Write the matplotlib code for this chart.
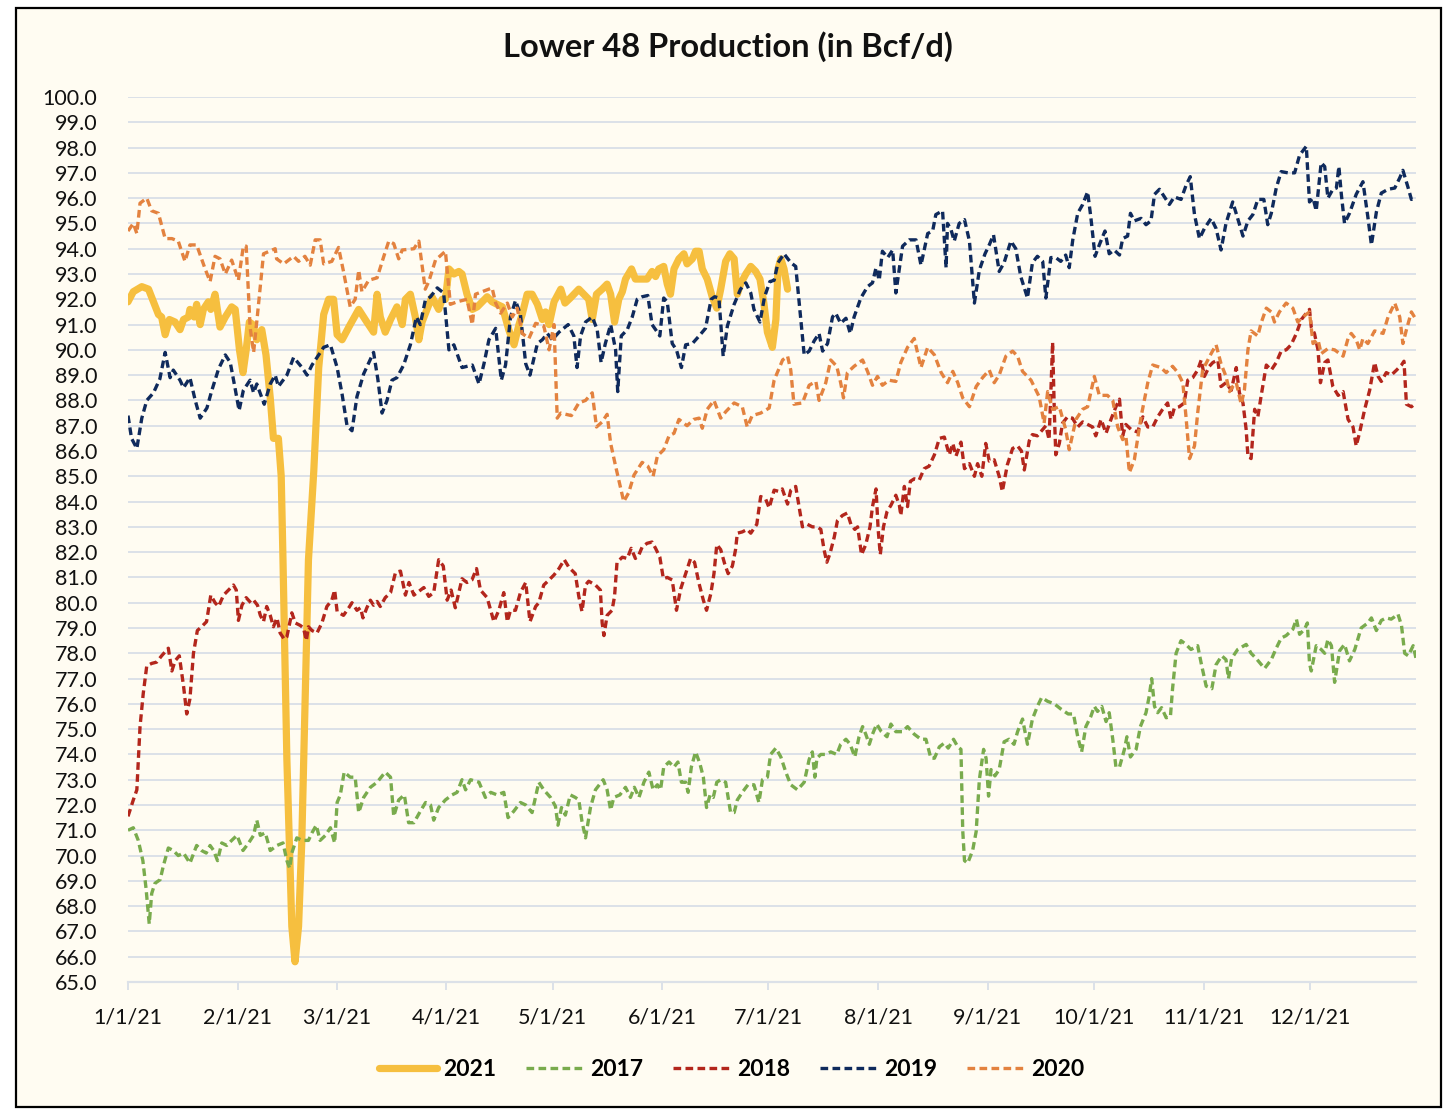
import matplotlib
matplotlib.use("Agg")
import matplotlib.pyplot as plt
from matplotlib.patches import Rectangle
from matplotlib.lines import Line2D
import numpy as np

plt.rcParams['font.family'] = ['Lato', 'DejaVu Sans']

TITLE = "Lower 48 Production (in Bcf/d)"
month_days = [0, 31, 59, 90, 120, 151, 181, 212, 243, 273, 304, 334]
month_labels = ["1/1/21", "2/1/21", "3/1/21", "4/1/21", "5/1/21", "6/1/21",
                "7/1/21", "8/1/21", "9/1/21", "10/1/21", "11/1/21", "12/1/21"]
y_ticks = list(range(65, 101))

# (day of year offset, Bcf/d)
s2021 = [(0,91.9),(1.5,92.3),(3.9,92.5),(5.8,92.4),(7.2,91.9),(8.6,91.4),(9.5,91.3),(10.5,90.6),(11.7,91.2),(13.3,91.1),(14.7,90.8),(15.7,91.2),(17.1,91.3),(17.5,91.6),(18.7,91.3),(19.4,91.8),(20.4,91.0),(21.3,91.6),(22.7,91.9),(23.4,91.6),(24.6,92.2),(26,90.9),(27.5,91.3),(29.3,91.7),(30.3,91.6),(31.5,90.0),(32.5,89.1),(33.4,90.0),(34.3,91.1),(35.3,91.0),(36.4,90.4),(37.8,90.8),(39,89.8),(40.2,88.1),(41.1,86.5),(42.5,86.5),(43.3,85.0),(43.8,81.7),(44.9,73.8),(46.3,67.2),(47.2,65.8),(48.2,67.2),(49.1,70.5),(50.1,76.4),(51,81.7),(52.5,85.2),(53.9,89.3),(55.3,91.4),(56.7,92.0),(58.1,92.0),(59.1,90.6),(60.5,90.4),(62.8,91.0),(65.2,91.6),(67.5,91.1),(69.4,90.7),(70.4,92.2),(71.3,91.3),(72.7,90.7),(74.2,91.2),(76,91.7),(77.5,91.0),(78.4,92.0),(79.8,92.2),(81.2,91.3),(82.2,90.4),(83.1,91.1),(84.5,91.6),(85.9,92.1),(87.8,91.6),(88.8,92.0),(89.7,92.0),(90.7,93.2),(92.1,93.0),(93.5,93.1),(94.4,93.0),(95.8,92.2),(97.3,91.6),(98.7,91.7),(100.1,91.9),(101.5,92.1),(102.9,91.9),(104.3,91.8),(105.8,91.7),(107.6,90.8),(109.1,90.2),(110.5,91.0),(111.4,91.4),(112.8,92.2),(114.2,92.2),(115.7,91.8),(117.1,91.2),(118,91.5),(119,91.0),(120.4,91.9),(122.3,92.4),(123.5,91.85),(125,92.05),(127.4,92.4),(128.8,92.2),(130.2,92.0),(131.2,91.2),(132.4,92.2),(134,92.4),(135.4,92.6),(136.4,92.2),(137.5,91.1),(138.7,92.0),(139.7,92.3),(140.6,92.8),(142.3,93.2),(143.4,92.8),(144.8,92.8),(146.7,92.8),(148.1,93.1),(149.1,92.9),(150,93.2),(151.4,93.3),(152.4,92.6),(153.3,92.2),(154.3,93.2),(155.7,93.6),(157.1,93.8),(158,93.4),(159.5,93.6),(160.4,93.9),(161.4,93.9),(162.3,93.2),(163.7,92.8),(165.1,92.1),(166.4,91.65),(167.5,92.4),(168.9,93.5),(170.1,93.8),(171.3,93.6),(172.2,92.2),(173.1,92.6),(174.6,93.0),(176,93.3),(177.4,93.1),(178.6,92.8),(179.7,91.85),(180.7,90.7),(182.1,90.1),(183.1,91.2),(183.7,93.2),(184.5,93.6),(185.4,93.2),(186.4,92.4)]

s2017 = [(0,71.0),(1.5,71.1),(2.9,70.6),(4.2,69.8),(5.1,68.7),(6,67.3),(6.7,68.5),(7.6,68.9),(9.1,69.05),(10,69.6),(11.4,70.3),(12.8,70.2),(14.2,70.0),(15.7,70.1),(17.5,69.7),(19.4,70.4),(20.8,70.2),(22.1,70.1),(23.2,70.4),(24.2,70.2),(25.3,69.8),(26.5,70.5),(27.9,70.4),(29.3,70.6),(30.8,70.8),(32.5,70.2),(34.1,70.5),(35.5,70.8),(36.4,71.4),(37.4,70.8),(38.8,70.9),(40.2,70.2),(42.1,70.4),(43.8,70.5),(44.9,69.8),(45.7,69.5),(46.3,70.1),(47.7,70.7),(49.2,70.6),(51,70.6),(52,70.9),(53.2,71.2),(54.3,70.6),(55.8,70.8),(57.2,71.1),(58.4,70.5),(59.1,72.1),(60,72.4),(61.1,73.3),(62.8,73.1),(64.2,73.1),(65.2,71.7),(66.6,72.3),(68.5,72.7),(70.4,72.9),(72.7,73.3),(74.2,73.1),(75.1,71.55),(76.5,72.2),(78.1,72.4),(79.3,71.3),(80.8,71.3),(82.6,71.75),(84.1,72.1),(85.5,72.0),(86.4,71.4),(87.8,71.9),(89.7,72.2),(91.6,72.4),(93,72.5),(94.4,73.0),(95.4,72.6),(96.8,73.0),(99.2,72.9),(101,72.3),(102.5,72.5),(104.3,72.4),(106.2,72.5),(107.4,71.5),(109,71.75),(110.9,72.1),(112.4,72.0),(114.2,71.7),(116.1,72.9),(117.5,72.6),(119.4,72.3),(120.8,71.95),(121.5,71.2),(122.5,71.9),(123.6,71.6),(125,72.4),(126.4,72.3),(127.4,72.2),(128.3,71.35),(129.3,70.7),(130.7,71.9),(132.1,72.6),(134.3,73.0),(135.4,72.6),(136.4,71.8),(137.3,72.3),(139,72.4),(140.6,72.7),(142,72.3),(143.1,72.7),(144.4,72.3),(145.8,72.9),(147.2,73.3),(148.4,72.6),(149.6,72.8),(150.5,72.6),(151.4,73.5),(152.9,73.7),(154.3,73.5),(155.4,73.7),(156.4,72.9),(157.6,72.9),(158.3,72.5),(159.2,73.5),(160.4,74.1),(161.6,73.65),(162.6,73.1),(163.5,71.9),(164.5,72.4),(165.4,72.3),(166.4,72.9),(167.5,73.0),(168.9,72.9),(170.3,71.7),(171.3,71.7),(172.2,72.2),(173.6,72.5),(175.2,72.8),(176.9,72.8),(178.3,72.1),(179.3,73.0),(180.7,73.1),(181.6,74.0),(183.1,74.25),(184.5,73.9),(185.9,73.3),(187.3,72.8),(189.2,72.6),(191.1,72.9),(192.5,73.8),(193.4,74.1),(194.1,73.1),(194.7,73.85),(195.8,74.0),(197.2,74.0),(198.6,74.1),(200.3,74.0),(201.4,74.4),(202.9,74.6),(204.1,74.4),(205.4,73.9),(206.6,74.7),(207.6,75.1),(208.5,74.8),(209.5,74.4),(210.4,74.8),(211.6,75.2),(212.9,74.9),(214.5,74.7),(215.6,75.2),(217,74.9),(218.9,74.9),(220.3,75.1),(222.2,74.8),(224.1,74.6),(225.5,74.6),(226.9,73.85),(227.9,73.85),(229.3,74.3),(230.7,74.45),(231.8,74.25),(233.3,74.6),(234.5,74.3),(235.4,74.2),(235.9,71.0),(236.4,69.8),(237.3,69.7),(238.7,70.2),(239.7,70.95),(240.6,73.0),(241.8,74.2),(242.5,73.85),(243.2,72.35),(243.9,73.4),(245,73.15),(246.2,73.4),(247.6,74.5),(249,74.6),(250.4,74.4),(251.4,74.9),(252.8,75.4),(254.2,74.4),(255.6,75.4),(257,75.9),(258.2,76.25),(259.9,76.1),(261.8,76.0),(263.6,75.8),(265.7,75.6),(267.2,75.6),(268.4,74.7),(269.5,74.1),(270.7,75.1),(272.1,75.5),(273.1,75.9),(274,75.7),(275.2,75.9),(276.4,75.3),(277.3,75.65),(278.3,74.6),(279.2,73.5),(280.2,73.5),(281.6,74.2),(282.3,74.7),(283.3,73.9),(284.9,74.2),(286.1,75.1),(287.7,75.65),(288.6,76.3),(289.3,77.0),(290.1,75.9),(291,75.65),(292.1,75.85),(293.4,75.45),(294.6,75.5),(295.2,76.6),(296.2,78.0),(297.6,78.5),(299,78.35),(300.4,78.15),(302.3,78.3),(303.3,77.6),(304.7,76.7),(306.3,76.6),(307.5,77.55),(309.1,77.9),(310.3,77.75),(311,77.0),(311.9,77.8),(313.6,78.15),(316,78.35),(317.4,78.0),(318.8,77.8),(321.2,77.4),(323.1,77.75),(324.5,78.2),(325.9,78.6),(327.3,78.7),(329.2,78.95),(330.2,79.35),(331.1,78.75),(332.5,78.95),(333.3,79.2),(333.9,77.6),(334.4,77.3),(335.8,78.3),(337.2,78.15),(338.2,78.0),(339.1,78.55),(340.1,78.3),(341,76.85),(342.4,78.1),(343.8,78.35),(345.2,77.7),(346.7,78.15),(348.5,79.0),(350.4,79.2),(351.4,79.4),(352.8,78.9),(354.2,79.3),(355.6,79.4),(357,79.35),(358,79.45),(358.9,79.55),(359.9,79.1),(360.8,78.0),(361.8,77.9),(363.2,78.3),(364,77.8)]

s2018 = [(0,71.55),(1.5,72.2),(2.5,72.6),(3.4,75.1),(4.3,76.4),(5.3,77.5),(6.7,77.6),(8.1,77.65),(9.5,77.9),(11.4,78.2),(12.4,77.3),(13.3,77.7),(14.5,77.9),(15.7,76.7),(16.6,75.6),(17.5,76.2),(18.5,78.0),(19.6,78.9),(20.8,79.05),(22.2,79.25),(23.4,80.3),(24.6,80.0),(25.6,79.85),(27,80.3),(28.4,80.5),(29.8,80.7),(30.6,80.5),(31.2,79.3),(32.2,79.9),(33.4,80.2),(34.7,80.0),(35.5,80.1),(36.6,79.9),(37.4,79.5),(38.3,79.25),(39.2,79.85),(40.2,79.5),(41.1,79.05),(42.1,79.4),(43,78.8),(44.2,78.55),(44.9,78.65),(45.7,79.2),(46.3,79.6),(47.3,79.2),(48.7,79.1),(49.6,79.0),(50.4,78.5),(51,79.05),(52,78.9),(53.4,78.8),(54.8,79.2),(56.2,79.85),(57.6,80.1),(58.4,80.5),(59.1,79.65),(60.9,79.5),(62.4,79.8),(63.3,80.0),(64.7,79.7),(65.7,79.8),(66.4,79.4),(67.5,79.8),(68.5,80.1),(69.4,79.9),(70.4,80.05),(71.3,79.85),(72.7,80.2),(74.2,80.4),(75.6,81.2),(77,81.25),(78.4,80.3),(79.4,80.8),(80.8,80.3),(82.2,80.45),(83.6,80.6),(85,80.25),(86.4,80.4),(87.8,81.7),(89.1,81.45),(90.2,80.1),(91.3,80.5),(92.5,79.8),(94.4,80.95),(95.8,80.8),(97.2,80.9),(98.5,81.35),(99.6,80.5),(101.5,80.2),(103.4,79.25),(104.8,79.7),(106.2,80.4),(107.2,79.25),(108.1,79.7),(109.5,79.7),(110.9,80.4),(112.4,80.8),(113.6,79.25),(115.2,79.85),(116.1,80.0),(117.5,80.7),(119,80.9),(120.4,81.1),(121.8,81.35),(123.3,81.7),(124.6,81.4),(126.4,81.15),(127.4,80.25),(128.3,79.65),(129.3,80.7),(130.2,80.85),(132.1,80.7),(133.5,80.5),(134,79.2),(134.5,78.7),(135.4,79.5),(136.8,79.7),(137.5,80.25),(138.2,81.6),(139.7,81.8),(141.1,81.75),(142.2,82.15),(143.4,81.75),(144.4,81.9),(145.3,82.2),(146.7,82.35),(148.1,82.4),(149.1,82.15),(150.3,81.8),(151.3,80.95),(152.4,81.0),(153.8,80.9),(155,79.7),(156.2,80.55),(157.6,81.15),(159,81.75),(160.1,81.6),(161.4,80.75),(162.6,80.1),(163.5,79.7),(164.7,80.35),(165.6,81.15),(166.4,82.3),(167.5,82.1),(168.6,81.55),(169.6,81.15),(170.8,81.45),(171.7,82.1),(172.2,82.75),(173.6,82.8),(175,82.9),(176,82.75),(177.7,83.1),(178.8,84.2),(180.2,84.1),(181.2,83.75),(182.6,84.45),(184,84.4),(184.9,84.5),(186.4,83.9),(187.3,84.45),(188.7,84.6),(189.7,83.75),(190.6,83.0),(192,83.1),(193.4,83.0),(194.8,83.0),(195.8,82.9),(196.7,82.1),(197.5,81.6),(198.4,81.95),(199.6,82.6),(200.5,83.25),(201.9,83.45),(203.3,83.55),(204.3,83.1),(205.4,82.9),(206.2,83.0),(207.3,81.9),(208.5,82.3),(209.7,83.0),(210.4,83.8),(211.4,84.5),(212,82.9),(212.6,81.9),(213.5,83.0),(214.5,83.6),(215.6,83.85),(217,84.25),(218,83.85),(218.4,83.45),(219.4,84.6),(220.3,83.8),(221.1,84.8),(222.2,84.9),(223.6,84.85),(225,85.3),(226.4,85.4),(227.9,85.85),(229.3,86.5),(230.7,86.55),(232.1,85.85),(233.1,86.3),(234,85.8),(235.4,86.35),(236.4,85.3),(237.8,85.5),(239.2,85.0),(240.1,85.5),(241.3,85.0),(242.4,86.3),(243.4,85.6),(244.8,85.65),(246.2,85.0),(247.1,84.4),(248.5,85.45),(250,86.1),(251.4,86.2),(252.5,86.0),(253.3,85.25),(254.7,86.4),(255.6,86.65),(257,86.6),(258.5,86.85),(259.4,87.0),(260.3,86.45),(260.8,88.3),(261.3,90.3),(261.8,87.5),(262.2,85.85),(263.2,86.3),(264.1,87.1),(265.5,87.35),(266.9,87.3),(268.4,86.95),(269.8,87.15),(271.2,87.05),(272.6,86.95),(273.5,86.6),(275,87.25),(276.4,86.7),(277.8,87.25),(279.2,87.75),(280.2,88.05),(281.1,86.6),(282,87.05),(283.5,86.85),(285.3,86.75),(286.8,87.35),(288.2,86.95),(289.6,86.95),(291,87.35),(292.4,87.65),(293.8,87.9),(294.8,87.25),(295.7,87.7),(297.1,87.75),(298.5,87.9),(299.5,88.8),(300.9,88.9),(302.3,89.2),(303.3,89.6),(304.2,88.95),(305.6,89.35),(306.6,89.5),(308,89.6),(308.9,88.55),(310.3,88.7),(311.8,88.4),(313.2,89.3),(314.1,88.3),(315.1,87.9),(316,86.85),(316.5,85.8),(317.4,85.7),(318.4,87.65),(319.3,87.35),(320.2,88.15),(321.7,89.4),(323.1,89.2),(324.5,89.5),(325.9,89.95),(327.3,90.0),(328.7,90.2),(330.2,90.65),(331.6,91.2),(333,91.45),(333.9,91.6),(334.4,90.9),(335.3,90.65),(336.3,90.0),(337,88.7),(338.2,89.5),(339.1,89.6),(340.5,88.55),(342,88.2),(343.4,88.35),(344.8,87.25),(346.2,86.95),(347.1,86.2),(348.1,86.75),(349.5,87.65),(350.9,88.4),(352.3,89.5),(353.3,88.95),(354.2,88.75),(355.6,89.1),(357,89.0),(358.5,89.2),(359.9,89.4),(360.6,89.55),(361.3,87.85),(362.7,87.75),(364,87.9)]

s2019 = [(0,87.4),(1,86.5),(2.5,86.1),(3.9,87.3),(5.3,88.0),(7.2,88.3),(9,88.85),(10.5,89.9),(11.9,88.9),(12.8,89.2),(14.7,88.8),(15.7,88.5),(17.5,88.9),(19,88.0),(20.4,87.3),(22.3,87.7),(23.7,88.4),(25.6,89.25),(27.5,89.8),(28.9,89.5),(30.3,88.45),(31.4,87.6),(32.6,88.4),(34.5,88.8),(35.5,88.3),(36.4,88.65),(38.5,87.85),(40.2,88.65),(41.6,89.0),(42.5,88.55),(44.9,89.0),(46.8,89.7),(49.2,89.3),(50.6,89.0),(52,89.4),(53.9,89.8),(55.3,90.1),(57.2,90.2),(59.1,89.3),(60.5,88.25),(61.9,87.0),(63.3,86.8),(64.7,88.15),(66.6,89.05),(69.4,89.9),(70.6,88.85),(71.8,87.5),(73.2,88.0),(74.6,88.8),(76,88.9),(77.9,89.4),(79.8,90.2),(81.5,91.3),(82.6,91.0),(84,91.95),(85.5,92.1),(87.4,92.45),(89.2,92.25),(90.7,90.0),(92.1,90.2),(94.4,89.3),(97.3,89.4),(99.2,88.65),(100.6,89.45),(102,90.4),(103.9,90.85),(105.5,88.8),(106.7,89.4),(108.1,91.3),(109.5,91.95),(110.9,91.4),(112.4,89.45),(113.6,89.0),(115.7,90.25),(117.1,90.4),(118.5,90.65),(119.9,90.4),(121.8,90.7),(124.4,91.0),(126,90.55),(126.9,89.3),(127.9,90.55),(129.3,91.1),(131.2,91.3),(132.6,90.8),(133.7,89.5),(134.9,90.25),(136.4,91.0),(137.8,90.0),(138.4,88.35),(139.4,90.55),(141.1,90.8),(142.5,91.3),(143.9,92.0),(145.3,92.1),(146.9,92.15),(148.1,91.0),(149.1,90.8),(150.3,90.55),(151.4,92.05),(152.4,91.9),(153.8,90.25),(155,90.0),(156.4,89.3),(157.6,90.2),(159.5,90.25),(161.4,90.55),(163.2,90.85),(164.8,92.0),(165.8,92.1),(167,92.05),(168.2,89.75),(169.4,90.95),(171.3,91.8),(173.1,92.4),(174.6,92.65),(176,92.25),(176.9,91.6),(178.6,91.1),(179.9,92.1),(181.4,92.7),(182.6,92.75),(183.7,93.45),(185.4,93.8),(187.3,93.45),(188.7,93.3),(189.7,91.85),(191.1,89.8),(192.5,89.95),(193.9,90.35),(195.3,90.65),(196.3,89.95),(197.7,90.25),(199.1,91.3),(200,91.45),(201.4,91.05),(202.9,91.25),(204.1,90.65),(205.2,91.3),(207.1,92.05),(209,92.5),(210.4,92.65),(211.4,93.25),(212.3,92.75),(213.2,93.9),(214.7,93.65),(216.1,93.95),(217,92.25),(218.9,94.1),(220.8,94.35),(222.7,94.35),(224.1,93.35),(226,94.6),(227.4,94.7),(228.3,95.35),(230.2,95.5),(231.2,93.25),(231.6,95.0),(232.6,94.75),(233.5,94.3),(234.9,95.0),(236.4,95.15),(237.8,94.3),(239.2,91.85),(240.6,93.15),(242.2,93.8),(243.4,94.15),(244.6,94.55),(246.2,93.1),(247.6,93.45),(249.5,94.3),(250.9,94.0),(252.3,92.9),(254.2,92.05),(255.6,93.45),(257,93.7),(258.5,93.5),(259.4,92.05),(260.8,93.65),(262.2,93.65),(263.6,93.5),(265,93.75),(266,93.25),(267,94.35),(268.4,95.4),(269.8,95.75),(271.2,96.25),(272.1,95.25),(273.3,93.7),(274.5,94.15),(276.1,94.7),(277.3,93.8),(278.7,93.95),(280.2,93.75),(281.1,94.4),(282.5,94.5),(283.3,95.4),(284.4,95.1),(286.3,95.2),(287.7,94.95),(289.1,95.1),(290.1,96.15),(291.5,96.35),(292.9,96.05),(294.3,95.75),(295.7,96.05),(297.6,95.95),(299,96.5),(300.2,96.85),(301.4,95.35),(302.8,94.4),(304.2,94.8),(306.1,95.2),(307.5,94.8),(308.9,93.95),(310.3,95.0),(312.2,95.85),(313.6,95.2),(315.1,94.5),(316.5,95.1),(317.9,95.35),(319.3,95.95),(321,95.95),(322.1,94.95),(323.1,95.4),(324.5,96.4),(325.9,97.05),(327.8,97.0),(329.7,97.0),(331.1,97.7),(333,98.05),(333.9,95.85),(334.9,96.0),(335.8,95.5),(337.2,97.4),(338.2,97.25),(339.1,96.0),(340.5,96.35),(341.5,96.4),(342.2,97.25),(342.9,96.15),(343.8,95.0),(345.2,95.4),(347.1,96.15),(349,96.65),(350.4,95.25),(351.4,94.15),(352.8,95.45),(354.2,96.2),(356.1,96.35),(358,96.4),(359.4,96.8),(360.3,97.1),(361.8,96.4),(362.7,95.95),(364,96.0)]

s2020 = [(0,94.7),(1.5,95.0),(2.5,94.6),(3.4,95.8),(5.3,96.0),(6.7,95.5),(8.6,95.4),(10.5,94.4),(12.4,94.4),(14.2,94.3),(16.1,93.5),(17.5,94.15),(19.4,94.15),(21.8,93.2),(23.2,92.7),(24.6,93.7),(26,93.6),(27.5,93.0),(29.3,93.55),(31.2,92.75),(32.6,94.1),(33.4,94.1),(34.5,90.9),(35.5,89.9),(36.6,91.4),(38.3,93.8),(41.6,94.0),(42,93.6),(44,93.4),(46.8,93.7),(48.2,93.5),(50,93.7),(51.5,93.35),(52.9,94.35),(54.3,94.35),(55.3,93.4),(57.6,93.5),(59.5,94.05),(60.9,93.1),(62.8,91.7),(64.2,92.0),(65.2,93.15),(66.1,92.3),(68,92.75),(70.4,92.85),(72.3,93.7),(73.7,94.3),(75.1,94.2),(76.5,93.6),(77.5,93.95),(80.8,94.0),(82.2,94.3),(84,92.4),(85,92.7),(86.9,93.55),(89.7,93.9),(91.1,91.8),(93,91.9),(95.8,92.0),(97.3,91.0),(98.2,92.2),(100.1,92.3),(102.9,92.45),(103.9,91.85),(105.3,91.45),(107.2,91.85),(108.6,91.3),(110,91.65),(111.4,90.65),(113.3,90.45),(115.2,91.05),(117.5,90.95),(119,90.0),(120.4,91.0),(121.3,87.3),(122.3,87.5),(125.3,87.4),(127.4,87.9),(129.3,88.0),(131.2,88.3),(132.4,86.95),(134,87.15),(135.4,87.45),(136.4,86.3),(137.8,85.4),(140.1,84.0),(141.5,84.35),(143,85.05),(145.3,85.55),(146.9,85.4),(148.4,85.0),(149.6,85.8),(151.4,86.05),(152.9,86.6),(154.3,86.7),(155.7,87.25),(158,87.0),(159.9,87.25),(161.4,87.3),(162.3,86.9),(163.7,87.65),(165.6,88.0),(167.5,87.3),(168.9,87.55),(171.3,87.9),(173.6,87.75),(175,86.95),(176.4,87.4),(178.8,87.5),(181.2,87.7),(182.6,88.8),(185,89.6),(186.4,89.75),(187.3,89.2),(188.2,87.85),(190.6,87.9),(192.5,88.6),(194.4,88.75),(195.3,88.0),(197.2,88.7),(198.6,89.6),(200.3,89.35),(201.4,88.7),(202.2,88.1),(203.3,89.1),(205.2,89.35),(207.6,89.6),(209,89.15),(210.4,88.6),(211.8,88.95),(213.2,88.6),(215.1,88.8),(217,88.75),(218.4,89.5),(220.3,90.1),(222.2,90.45),(224.1,89.3),(226,90.1),(227.9,89.8),(229.8,89.1),(231.6,88.7),(233.1,89.15),(234.5,88.7),(235.9,88.1),(237.8,87.75),(239.7,88.55),(241.5,88.9),(243.4,89.2),(244.8,88.7),(246.2,89.0),(248.1,89.75),(250,89.95),(251.4,89.75),(252.8,89.15),(255.2,88.8),(257.5,88.15),(258.9,87.1),(259.9,88.35),(261.3,87.65),(263.2,87.75),(265,86.85),(266,86.05),(267.9,87.25),(269.8,87.65),(271.2,87.75),(273.1,88.95),(274.5,88.2),(276.8,88.2),(278.3,88.0),(279.7,86.95),(281.1,86.45),(282,86.6),(283,85.15),(284.4,85.65),(286.3,87.35),(288.2,88.7),(289.6,89.4),(291.9,89.3),(293.4,89.1),(295.2,89.35),(296.7,89.1),(298.1,88.7),(299,87.35),(300,85.7),(301.4,86.2),(302.3,87.5),(303.7,89.2),(306.1,89.85),(307.5,90.2),(308.9,89.45),(310.3,88.95),(311.3,88.35),(312.2,88.55),(313.2,88.7),(314.6,87.85),(315.5,88.4),(316.5,90.0),(317.4,90.75),(319.3,90.55),(320.2,91.05),(321.7,91.65),(323.1,91.5),(324,91.1),(325.4,91.5),(327.3,91.85),(329.2,91.65),(330.6,91.1),(332,91.3),(333.9,91.5),(334.9,90.25),(336.3,90.4),(337.2,89.85),(339.1,90.05),(341,90.0),(343.4,89.75),(344.8,90.45),(345.7,90.65),(347.1,90.4),(348.1,90.0),(349,90.45),(350.4,90.25),(352.3,90.75),(354.7,90.65),(356.1,91.3),(358,91.85),(359.4,91.3),(360.3,90.25),(361.3,90.8),(362.7,91.5),(364,91.2)]

series_names = ["2021", "2017", "2018", "2019", "2020"]
series_data = [s2021, s2017, s2018, s2019, s2020]
colors = ["#F6BF3F", "#79AB4D", "#B3261C", "#0F2A5C", "#E3823F"]

W, H = 1450, 1116
fig = plt.figure(figsize=(W / 100, H / 100), dpi=100)
fig.patch.set_facecolor("white")
frame = Rectangle((16 / W, 1 - 1107 / H), (1441 - 16) / W, (1107 - 8) / H,
                  transform=fig.transFigure, facecolor="#FFFCF2",
                  edgecolor="black", linewidth=1.6, zorder=-10)
fig.patches.append(frame)

ax = fig.add_axes([128 / W, 1 - 982 / H, (1416 - 128) / W, (982 - 97) / H])
ax.set_zorder(5)
ax.set_facecolor("none")

grid_c = "#DCE1E8"
DASH_LW = 2.4
DASH = (2.3, 1.3)
for i, (name, data, c) in enumerate(zip(series_names, series_data, colors)):
    d = [p[0] for p in data]
    v = [p[1] for p in data]
    if name == "2021":
        ax.plot(d, v, color=c, lw=5.2, solid_joinstyle="round",
                solid_capstyle="round", zorder=2)
    else:
        ax.plot(d, v, color=c, lw=DASH_LW, dashes=DASH,
                dash_capstyle="butt", zorder=3 + i)

ax.set_xlim(0, 364)
ax.set_ylim(65, 100)
ax.set_yticks(y_ticks)
ax.set_yticklabels([f"{t:.1f}" for t in y_ticks])
ax.set_xticks(month_days)
ax.set_xticklabels(month_labels)
ax.yaxis.grid(True, color=grid_c, lw=1.4, zorder=0)
ax.set_axisbelow(True)
for s in ["top", "right", "left"]:
    ax.spines[s].set_visible(False)
ax.spines["bottom"].set_color(grid_c)
ax.spines["bottom"].set_linewidth(1.6)
ax.tick_params(axis="y", length=0, pad=22, labelsize=15.5, labelcolor="#111111")
ax.tick_params(axis="x", length=6, width=1.4, color=grid_c, pad=12,
               labelsize=15.5, labelcolor="#111111")

fig.text(728 / W, 1 - 47 / H, TITLE, ha="center", va="center",
         fontsize=23.5, fontweight="bold", color="#111111")

leg_handles = []
for name, c in zip(series_names, colors):
    if name == "2021":
        leg_handles.append(Line2D([], [], color=c, lw=5.2, solid_capstyle="round"))
    else:
        leg_handles.append(Line2D([], [], color=c, lw=DASH_LW, dashes=DASH))
fig.legend(leg_handles, series_names, loc="center", ncol=5,
           bbox_to_anchor=(732 / W, 1 - 1070 / H), frameon=False,
           prop={"size": 16.5, "weight": "bold"}, handlelength=2.5,
           handletextpad=0.3, columnspacing=1.3)

fig.savefig("out.png", dpi=100, facecolor=fig.get_facecolor())
